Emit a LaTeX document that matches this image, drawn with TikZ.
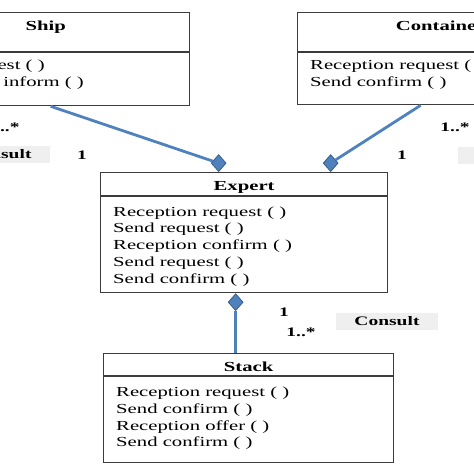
\documentclass[tikz,border=0pt]{standalone}
\usepackage{fontspec}
\setmainfont[FakeStretch=1.5]{Liberation Serif}
\usepackage{xcolor}
\usetikzlibrary{shapes.geometric}
\definecolor{linkblue}{HTML}{4F81BD}
\definecolor{linkdark}{HTML}{385D8A}
\definecolor{boxline}{HTML}{3C3C3C}
\definecolor{labelgray}{HTML}{EFEFEF}
\tikzset{
    class-box/.style n args = {2}{draw=boxline, line width=1.3pt, rectangle, anchor=north west, inner sep=0pt, minimum width=#1, minimum height=#2},
    class-rule/.style = {draw=boxline, line width=1.3pt},
    class-title/.style = {font=\fontsize{13.8}{16.7}\selectfont\bfseries, anchor=base, inner sep=0pt},
    class-ops/.style = {font=\fontsize{13.8}{16.7}\selectfont, align=left, anchor=north west, inner sep=0pt},
    link/.style = {draw=linkblue, line width=2.8pt},
    agg-diamond/.style = {diamond, draw=linkdark, fill=linkblue, line width=0.8pt, minimum width=15pt, minimum height=17pt, inner sep=0pt},
    mult/.style = {font=\fontsize{13}{15}\selectfont\bfseries, inner sep=0pt},
    role-label/.style = {fill=labelgray, font=\fontsize{13}{15}\selectfont\bfseries, inner xsep=18pt, inner ysep=0pt, minimum height=17pt},
}
\begin{document}
\begin{tikzpicture}[x=1pt, y=-1pt]
\useasboundingbox (0,0) rectangle (474,474);
\node[class-box={288pt}{93pt}] (ship) at (-99,12) {};
\draw[class-rule] ([yshift=-40pt]ship.north west) -- ([yshift=-40pt]ship.north east);
\node[class-title] at ([yshift=-18pt]ship.north) {Ship};
\node[class-ops] at ([xshift=13pt, yshift=-48pt]ship.north west) {Send request ( )\\Reception inform ( )};

\node[class-box={286pt}{92pt}] (container) at (297,12) {};
\draw[class-rule] ([yshift=-40pt]container.north west) -- ([yshift=-40pt]container.north east);
\node[class-title] at ([yshift=-18pt]container.north) {Container};
\node[class-ops] at ([xshift=13pt, yshift=-48pt]container.north west) {Reception request ( )\\Send confirm ( )};

\node[class-box={287pt}{120pt}] (expert) at (100,172) {};
\draw[class-rule] ([yshift=-24pt]expert.north west) -- ([yshift=-24pt]expert.north east);
\node[class-title] at ([yshift=-18pt]expert.north) {Expert};
\node[class-ops] at ([xshift=13pt, yshift=-34.5pt]expert.north west) {Reception request ( )\\Send request ( )\\Reception confirm ( )\\Send request ( )\\Send confirm ( )};

\node[class-box={290pt}{109pt}] (stack) at (103,353) {};
\draw[class-rule] ([yshift=-23pt]stack.north west) -- ([yshift=-23pt]stack.north east);
\node[class-title] at ([yshift=-18pt]stack.north) {Stack};
\node[class-ops] at ([xshift=13pt, yshift=-34pt]stack.north west) {Reception request ( )\\Send confirm ( )\\Reception offer ( )\\Send confirm ( )};

\node[agg-diamond, anchor=south] (d-ship) at ([xshift=-25.5pt]expert.north) {};
\node[agg-diamond, anchor=south] (d-container) at ([xshift=86.5pt]expert.north) {};
\node[agg-diamond, anchor=north] (d-stack) at ([xshift=-8.5pt]expert.south) {};
\draw[link] ([xshift=5pt]ship.south) -- (d-ship);
\draw[link] ([xshift=-20pt]container.south) -- (d-container);
\draw[link, line width=3.6pt] (d-stack) -- (d-stack |- stack.north);

\node[mult] (ship-many) at (5,127) {1..*};
\node[role-label] (ship-role) at (-1,154) {Consult};
\node[mult] (ship-one) at (82,155) {1};
\node[mult] (container-many) at (455,127) {1..*};
\node[mult] (container-one) at (402,155) {1};
\node[role-label] (container-role) at (509,155) {Consult};
\node[mult] (stack-one) at (284,312) {1};
\node[mult] (stack-many) at (301,332) {1..*};
\node[role-label] (stack-role) at (387,321) {Consult};
\end{tikzpicture}
\end{document}
